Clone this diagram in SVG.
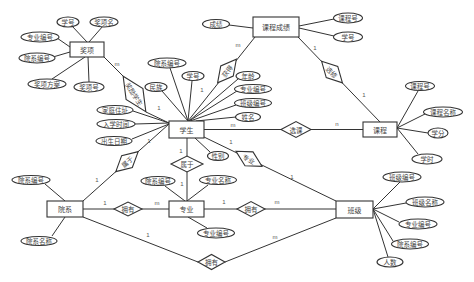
<svg xmlns="http://www.w3.org/2000/svg" width="474" height="282" viewBox="0 0 474 282">
<defs>
<style>
.l{stroke:#333;stroke-width:1;fill:none}
.e{fill:#fff;stroke:#333;stroke-width:1.1}
.r{fill:#fff;stroke:#333;stroke-width:1.1}
.d{fill:#fff;stroke:#333;stroke-width:1.1}
.t{font-family:"Noto Sans CJK SC","Noto Sans",sans-serif;font-size:6.5px;fill:#444;text-anchor:middle;dominant-baseline:central}
.te{font-family:"Noto Sans CJK SC","Noto Sans",sans-serif;font-size:7px;fill:#444;text-anchor:middle;dominant-baseline:central}
.c{font-family:"Liberation Sans",sans-serif;font-size:6px;fill:#555;text-anchor:middle;dominant-baseline:central}
</style>
<path id="dm" d="M-15,0 L0,-8 L15,0 L0,8 Z"/>
<path id="dl" d="M-21,0 L0,-10 L21,0 L0,10 Z"/>
</defs>
<rect width="474" height="282" fill="#fff"/>
<g id="connectors">
<line class="l" x1="72" y1="26" x2="87" y2="42"/>
<line class="l" x1="103" y1="26" x2="89" y2="42"/>
<line class="l" x1="57" y1="38" x2="70" y2="47"/>
<line class="l" x1="53" y1="57" x2="70" y2="52"/>
<line class="l" x1="52" y1="79" x2="85" y2="57"/>
<line class="l" x1="89" y1="82" x2="88" y2="57"/>
<line class="l" x1="104" y1="57" x2="123" y2="76"/>
<line class="l" x1="146" y1="112" x2="169" y2="123"/>
<line class="l" x1="170" y1="68" x2="188" y2="121"/>
<line class="l" x1="192" y1="81" x2="188" y2="121"/>
<line class="l" x1="162" y1="91" x2="188" y2="121"/>
<line class="l" x1="238" y1="79" x2="189" y2="121"/>
<line class="l" x1="237" y1="91" x2="189" y2="121"/>
<line class="l" x1="236" y1="105" x2="190" y2="121"/>
<line class="l" x1="236" y1="117" x2="196" y2="121"/>
<line class="l" x1="133" y1="111" x2="169" y2="123"/>
<line class="l" x1="135" y1="124" x2="169" y2="123"/>
<line class="l" x1="132" y1="139" x2="169" y2="124"/>
<line class="l" x1="195" y1="138" x2="210" y2="152"/>
<line class="l" x1="169" y1="124" x2="83" y2="201"/>
<line class="l" x1="187" y1="138" x2="187" y2="201"/>
<line class="l" x1="204" y1="129.5" x2="363" y2="129.5"/>
<line class="l" x1="188" y1="121" x2="255" y2="37"/>
<line class="l" x1="298" y1="37" x2="380" y2="122"/>
<line class="l" x1="204" y1="137" x2="336" y2="201"/>
<line class="l" x1="83" y1="209" x2="169" y2="209"/>
<line class="l" x1="204" y1="209" x2="336" y2="209"/>
<line class="l" x1="83" y1="217" x2="198" y2="262"/>
<line class="l" x1="225" y1="262" x2="336" y2="218"/>
<line class="l" x1="45" y1="184" x2="65" y2="201"/>
<line class="l" x1="52" y1="236" x2="65" y2="217"/>
<line class="l" x1="165" y1="186" x2="185" y2="201"/>
<line class="l" x1="208" y1="185" x2="187" y2="201"/>
<line class="l" x1="207" y1="228" x2="188" y2="217"/>
<line class="l" x1="229" y1="25" x2="253" y2="28"/>
<line class="l" x1="334" y1="19" x2="299" y2="26"/>
<line class="l" x1="334" y1="36" x2="299" y2="28"/>
<line class="l" x1="418" y1="91" x2="397" y2="128"/>
<line class="l" x1="425" y1="114" x2="397" y2="128"/>
<line class="l" x1="428" y1="133" x2="397" y2="128"/>
<line class="l" x1="418" y1="154" x2="397" y2="128"/>
<line class="l" x1="400" y1="182" x2="373" y2="209"/>
<line class="l" x1="406" y1="203" x2="373" y2="209"/>
<line class="l" x1="399" y1="222" x2="373" y2="209"/>
<line class="l" x1="393" y1="241" x2="373" y2="209"/>
<line class="l" x1="388" y1="257" x2="373" y2="209"/>
<text class="c" x="117" y="64">m</text>
<text class="c" x="159" y="108">1</text>
<text class="c" x="149" y="141">1</text>
<text class="c" x="97" y="180">1</text>
<text class="c" x="202" y="90">1</text>
<text class="c" x="238" y="45">m</text>
<text class="c" x="315" y="48">1</text>
<text class="c" x="364" y="95">1</text>
<text class="c" x="233" y="125">m</text>
<text class="c" x="337" y="124">n</text>
<text class="c" x="181" y="151">1</text>
<text class="c" x="182" y="184">1</text>
<text class="c" x="231" y="142">1</text>
<text class="c" x="292" y="177">1</text>
<text class="c" x="105" y="203">1</text>
<text class="c" x="157" y="203">m</text>
<text class="c" x="224" y="202">1</text>
<text class="c" x="277" y="202">m</text>
<text class="c" x="148" y="235">1</text>
<text class="c" x="275" y="237">m</text>
</g>
<g id="jiangxiang"><rect class="r" x="70" y="42" width="34" height="15"/><text class="te" x="87" y="49.5">奖项</text></g>
<g id="kechengchengji"><rect class="r" x="253" y="17" width="46" height="20"/><text class="te" x="276" y="27">课程成绩</text></g>
<g id="xuesheng"><rect class="r" x="169" y="121" width="35" height="17"/><text class="te" x="186.5" y="129.5">学生</text></g>
<g id="kecheng"><rect class="r" x="363" y="122" width="34" height="15"/><text class="te" x="380" y="129.5">课程</text></g>
<g id="yuanxi"><rect class="r" x="47" y="201" width="36" height="16"/><text class="te" x="65" y="209">院系</text></g>
<g id="zhuanye"><rect class="r" x="169" y="201" width="35" height="16"/><text class="te" x="186.5" y="209">专业</text></g>
<g id="banji"><rect class="r" x="336" y="201" width="37" height="17"/><text class="te" x="354.5" y="209.5">班级</text></g>
<g id="r-jiangli" transform="translate(134.5,94) rotate(57.4)"><use href="#dl" class="d"/><text class="t" x="0" y="0">奖励学生</text></g>
<g id="r-huode" transform="translate(227,71) rotate(-51.4)"><use href="#dm" class="d"/><text class="t" x="0" y="0">获得</text></g>
<g id="r-xuanxiu" transform="translate(332,72) rotate(46)"><use href="#dm" class="d"/><text class="t" x="0" y="0">选修</text></g>
<g id="r-xuanke" transform="translate(296,129.5)"><use href="#dm" class="d"/><text class="t" x="0" y="0">选课</text></g>
<g id="r-shuyu1" transform="translate(127,161.6) rotate(-41.8)"><use href="#dm" class="d"/><text class="t" x="0" y="0">属于</text></g>
<g id="r-shuyu2" transform="translate(187,164)"><path class="d" d="M-16,0 L0,-8 L16,0 L0,8 Z"/><text class="t" x="0" y="0">属于</text></g>
<g id="r-zhuanye" transform="translate(249,158.8) rotate(30)"><use href="#dm" class="d"/><text class="t" x="0" y="0">专业</text></g>
<g id="r-yongyou1" transform="translate(128,209)"><path class="d" d="M-14,0 L0,-7 L14,0 L0,7 Z"/><text class="t" x="0" y="0">拥有</text></g>
<g id="r-yongyou2" transform="translate(251,209)"><path class="d" d="M-14,0 L0,-7.5 L14,0 L0,7.5 Z"/><text class="t" x="0" y="0">拥有</text></g>
<g id="r-yongyou3" transform="translate(211.5,262)"><path class="d" d="M-13.5,0 L0,-7.5 L13.5,0 L0,7.5 Z"/><text class="t" x="0" y="0">拥有</text></g>
<g id="a-jx-xuehao"><ellipse class="e" cx="68" cy="22" rx="11" ry="5"/><text class="t" x="68" y="22">学号</text></g>
<g id="a-jx-ming"><ellipse class="e" cx="104" cy="22" rx="14" ry="5"/><text class="t" x="104" y="22">奖项名</text></g>
<g id="a-jx-zybh"><ellipse class="e" cx="40" cy="37" rx="19" ry="5"/><text class="t" x="40" y="37">专业编号</text></g>
<g id="a-jx-yxbh"><ellipse class="e" cx="37" cy="58" rx="18" ry="5"/><text class="t" x="37" y="58">院系编号</text></g>
<g id="a-jx-fa"><ellipse class="e" cx="47" cy="84" rx="19" ry="5"/><text class="t" x="47" y="84">奖项方案</text></g>
<g id="a-jx-hao"><ellipse class="e" cx="89" cy="87" rx="15" ry="5"/><text class="t" x="89" y="87">奖项号</text></g>
<g id="a-xs-yxbh"><ellipse class="e" cx="167" cy="63" rx="19" ry="5"/><text class="t" x="167" y="63">院系编号</text></g>
<g id="a-xs-xuehao"><ellipse class="e" cx="193" cy="76" rx="11" ry="4.5"/><text class="t" x="193" y="76">学号</text></g>
<g id="a-xs-minzu"><ellipse class="e" cx="156" cy="87" rx="11" ry="4.5"/><text class="t" x="156" y="87">民族</text></g>
<g id="a-xs-nianling"><ellipse class="e" cx="248" cy="76" rx="12" ry="4.5"/><text class="t" x="248" y="76">年龄</text></g>
<g id="a-xs-zybh"><ellipse class="e" cx="253" cy="89" rx="18.5" ry="4.5"/><text class="t" x="253" y="89">专业编号</text></g>
<g id="a-xs-bjbh"><ellipse class="e" cx="253" cy="103" rx="18.5" ry="4.5"/><text class="t" x="253" y="103">班级编号</text></g>
<g id="a-xs-xingming"><ellipse class="e" cx="248" cy="117" rx="12.5" ry="4.5"/><text class="t" x="248" y="117">姓名</text></g>
<g id="a-xs-jtzz"><ellipse class="e" cx="115" cy="110" rx="18" ry="4.5"/><text class="t" x="115" y="110">家庭住址</text></g>
<g id="a-xs-rxsj"><ellipse class="e" cx="116" cy="124" rx="19" ry="4.5"/><text class="t" x="116" y="124">入学时间</text></g>
<g id="a-xs-csrq"><ellipse class="e" cx="114" cy="141" rx="18" ry="4.5"/><text class="t" x="114" y="141">出生日期</text></g>
<g id="a-xs-xingbie"><ellipse class="e" cx="218" cy="156" rx="10.5" ry="4.5"/><text class="t" x="218" y="156">性别</text></g>
<g id="a-yx-yxbh"><ellipse class="e" cx="31" cy="180" rx="19" ry="4.5"/><text class="t" x="31" y="180">院系编号</text></g>
<g id="a-yx-yxmc"><ellipse class="e" cx="39" cy="241" rx="18" ry="4.5"/><text class="t" x="39" y="241">院系名称</text></g>
<g id="a-zy-yxbh"><ellipse class="e" cx="158" cy="181" rx="17" ry="4.5"/><text class="t" x="158" y="181">院系编号</text></g>
<g id="a-zy-zymc"><ellipse class="e" cx="218" cy="180" rx="18.5" ry="4.5"/><text class="t" x="218" y="180">专业名称</text></g>
<g id="a-zy-zybh"><ellipse class="e" cx="216" cy="233" rx="18.5" ry="5"/><text class="t" x="216" y="233">专业编号</text></g>
<g id="a-kccj-cj"><ellipse class="e" cx="216" cy="24" rx="13.5" ry="4.5"/><text class="t" x="216" y="24">成绩</text></g>
<g id="a-kccj-kch"><ellipse class="e" cx="348" cy="18" rx="14.5" ry="5"/><text class="t" x="348" y="18">课程号</text></g>
<g id="a-kccj-xh"><ellipse class="e" cx="348" cy="37" rx="14.5" ry="5"/><text class="t" x="348" y="37">学号</text></g>
<g id="a-kc-kch"><ellipse class="e" cx="420" cy="86" rx="14.5" ry="4.5"/><text class="t" x="420" y="86">课程号</text></g>
<g id="a-kc-kcmc"><ellipse class="e" cx="443" cy="112" rx="19.5" ry="5"/><text class="t" x="443" y="112">课程名称</text></g>
<g id="a-kc-xf"><ellipse class="e" cx="438" cy="133" rx="10" ry="5"/><text class="t" x="438" y="133">学分</text></g>
<g id="a-kc-xs"><ellipse class="e" cx="427" cy="159" rx="15" ry="5"/><text class="t" x="427" y="159">学时</text></g>
<g id="a-bj-bjbh"><ellipse class="e" cx="402" cy="177" rx="19" ry="5"/><text class="t" x="402" y="177">班级编号</text></g>
<g id="a-bj-bjmc"><ellipse class="e" cx="425" cy="202" rx="19" ry="5"/><text class="t" x="425" y="202">班级名称</text></g>
<g id="a-bj-zybh"><ellipse class="e" cx="418" cy="224" rx="19" ry="5"/><text class="t" x="418" y="224">专业编号</text></g>
<g id="a-bj-yxbh"><ellipse class="e" cx="410" cy="244" rx="18.5" ry="5"/><text class="t" x="410" y="244">院系编号</text></g>
<g id="a-bj-rs"><ellipse class="e" cx="390" cy="262" rx="13" ry="5"/><text class="t" x="390" y="262">人数</text></g>
</svg>
